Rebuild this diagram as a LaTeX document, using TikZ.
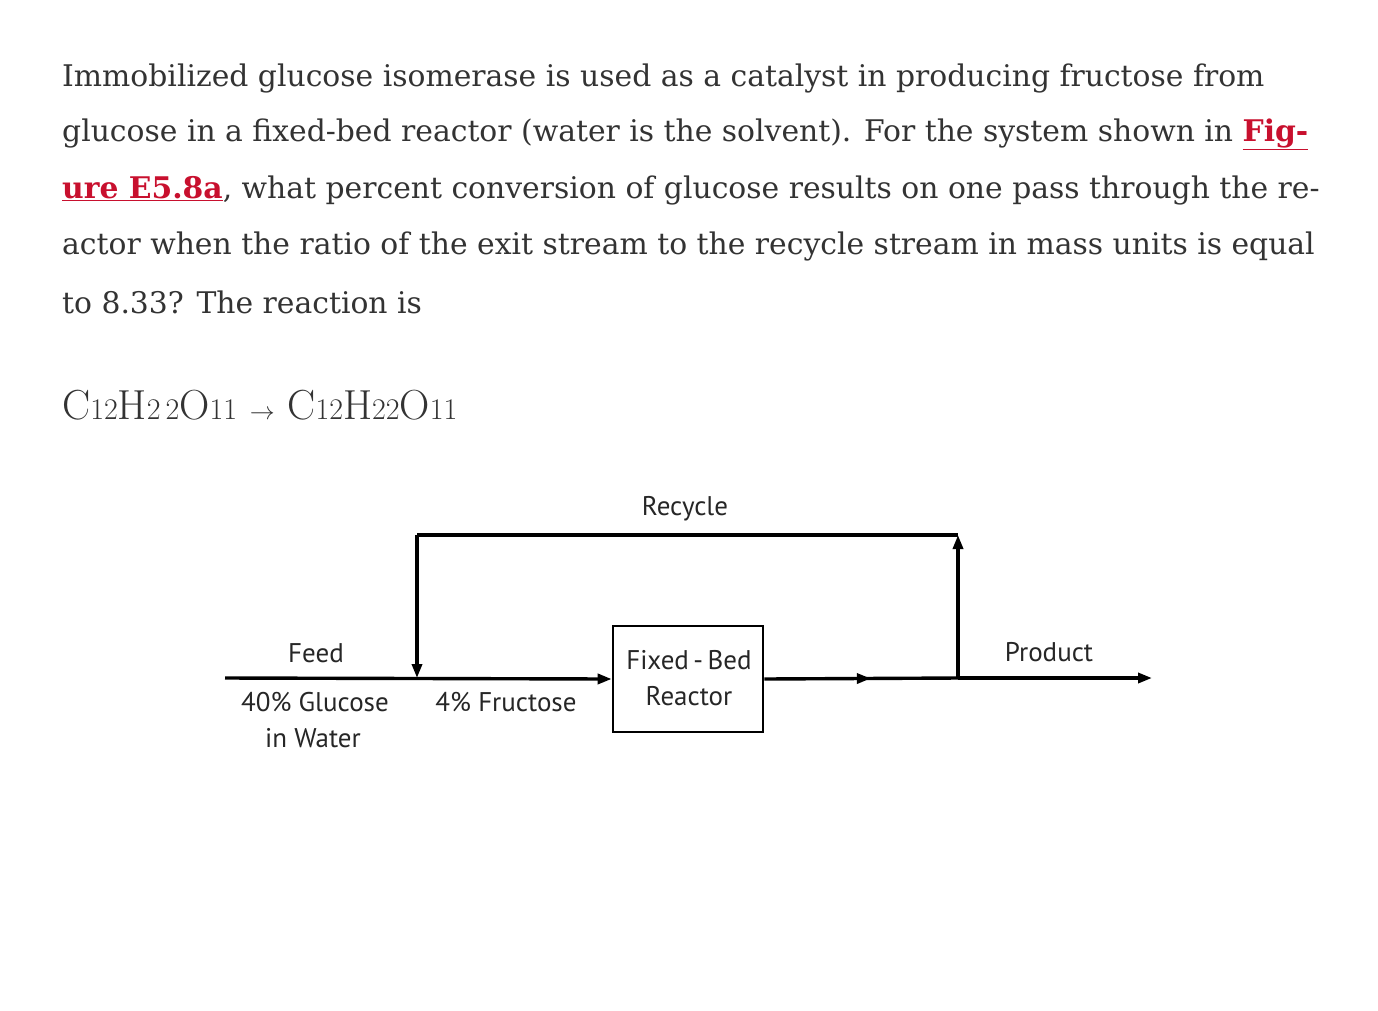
\documentclass[tikz,border=0pt]{standalone}
\usepackage{fontspec}
\setmainfont{DejaVu Serif}
\newfontfamily\diagfont{PT Sans}
\newfontfamily\lmfont{Latin Modern Roman}
\usetikzlibrary{arrows.meta,decorations.markings}
\definecolor{txt}{HTML}{333333}
\definecolor{lnk}{HTML}{C8102E}
\begin{document}
\begin{tikzpicture}[x=1pt,y=-1pt,
  para/.style={anchor=west,inner sep=0,text=txt,font=\fontsize{29.8}{29.8}\selectfont},
  lbl/.style={inner sep=0,text=black!85,font=\diagfont\fontsize{27}{27}\selectfont},
  pipe/.style={line width=3.4pt},
  tip/.style={-{Triangle[length=14pt,width=10pt]}},
  midtip/.style={postaction={decorate},decoration={markings,mark=at position #1 with {\arrow{Triangle[length=14pt,width=10pt]}}}}]
\useasboundingbox (0,0) rectangle (1378,1010);
\node[para] (l1) at (62,78) {Immobilized glucose isomerase is used as a catalyst in producing fructose from};
\node[para] (l2) at (62,134) {glucose in a fixed-bed reactor (water is the solvent). For the system shown in \textcolor{lnk}{\textbf{\underline{Fig-}}}};
\node[para] (l3) at (62,190) {\textcolor{lnk}{\textbf{\underline{ure E5.8a}}}, what percent conversion of glucose results on one pass through the re-};
\node[para] (l4) at (62,246) {actor when the ratio of the exit stream to the recycle stream in mass units is equal};
\node[para] (l5) at (62,302) {to 8.33? The reaction is};
\node[anchor=west,inner sep=0,text=txt,font=\lmfont\fontsize{42}{42}\selectfont] (eq) at (62,405)
  {C{\fontsize{30}{30}\selectfont12}H{\fontsize{30}{30}\selectfont2\,2}O{\fontsize{30}{30}\selectfont11} $\rightarrow$ C{\fontsize{30}{30}\selectfont12}H{\fontsize{30}{30}\selectfont22}O{\fontsize{30}{30}\selectfont11}};
% diagram
\node[draw,line width=2.6pt,minimum width=150pt,minimum height=106pt,inner sep=0] (R) at (688,679) {};
\node[lbl] (fb) at (689,660) {Fixed\,-\,Bed};
\node[lbl] (rc) at (689,696) {Reactor};
\coordinate (in) at (225,678);
\coordinate (sp) at (417,678);
\coordinate (tl) at (417,535);
\coordinate (tr) at (958,535);
\coordinate (mx) at (958,678);
\coordinate (out) at (1152,678);
\draw[pipe,tip] (in) -- (R.west);
\draw[pipe,midtip=0.55] (R.east) -- (mx);
\draw[pipe,tip] (mx) -- (out);
\draw[pipe,tip] (mx) -- (tr);
\draw[pipe] (tr) -- (tl);
\draw[pipe,tip] (tl) -- (sp);
\node[lbl] (rec) at (685,509) {Recycle};
\node[lbl] (feed) at (316,653) {Feed};
\node[lbl] (prod) at (1049,652) {Product};
\node[lbl] (g1) at (315,702) {40\% Glucose};
\node[lbl] (g2) at (313,738) {in Water};
\node[lbl] (fr) at (506,702) {4\% Fructose};
\end{tikzpicture}
\end{document}
